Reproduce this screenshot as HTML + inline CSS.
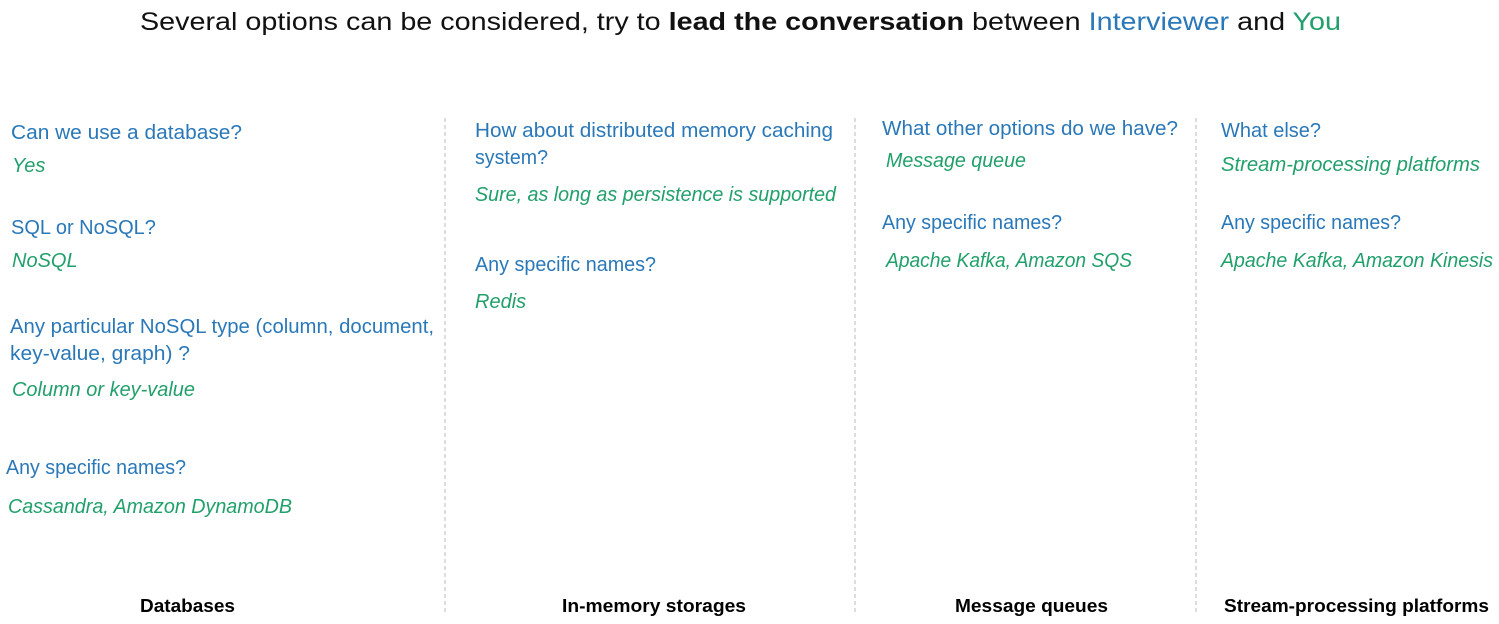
<!DOCTYPE html>
<html><head><meta charset="utf-8"><style>
html,body{margin:0;padding:0;background:#fff;}
svg{display:block;}
text{font-family:"Liberation Sans",Arial,sans-serif;}
.q{fill:#2a78b8;font-size:20px;}
.a{fill:#22a06b;font-size:20px;font-style:italic;}
.h{fill:#000;font-size:18px;font-weight:bold;}
</style></head><body>
<svg width="1499" height="624" viewBox="0 0 1499 624" xmlns="http://www.w3.org/2000/svg">
<text x="140" y="30" font-size="25" fill="#111" textLength="1201" lengthAdjust="spacingAndGlyphs">Several options can be considered, try to <tspan font-weight="bold">lead the conversation</tspan> between <tspan fill="#2a78b8">Interviewer</tspan> and <tspan fill="#22a06b">You</tspan></text>
<g stroke="#bbb" stroke-width="1" stroke-dasharray="4,3">
<line x1="445" y1="118" x2="445" y2="612"/>
<line x1="855" y1="118" x2="855" y2="612"/>
<line x1="1196" y1="118" x2="1196" y2="612"/>
</g>
<text class="q" x="11" y="139" textLength="231" lengthAdjust="spacingAndGlyphs">Can we use a database?</text>
<text class="a" x="12" y="172">Yes</text>
<text class="q" x="11" y="234">SQL or NoSQL?</text>
<text class="a" x="12" y="267">NoSQL</text>
<text class="q" x="10" y="333" textLength="424" lengthAdjust="spacingAndGlyphs">Any particular NoSQL type (column, document,</text>
<text class="q" x="10" y="360" textLength="180" lengthAdjust="spacingAndGlyphs">key-value, graph) ?</text>
<text class="a" x="12" y="396" textLength="183" lengthAdjust="spacingAndGlyphs">Column or key-value</text>
<text class="q" x="6" y="474" textLength="180" lengthAdjust="spacingAndGlyphs">Any specific names?</text>
<text class="a" x="8" y="513" textLength="284" lengthAdjust="spacingAndGlyphs">Cassandra, Amazon DynamoDB</text>

<text class="q" x="475" y="137" textLength="358" lengthAdjust="spacingAndGlyphs">How about distributed memory caching</text>
<text class="q" x="475" y="164" textLength="73" lengthAdjust="spacingAndGlyphs">system?</text>
<text class="a" x="475" y="201" textLength="361" lengthAdjust="spacingAndGlyphs">Sure, as long as persistence is supported</text>
<text class="q" x="475" y="271" textLength="181" lengthAdjust="spacingAndGlyphs">Any specific names?</text>
<text class="a" x="475" y="308">Redis</text>

<text class="q" x="882" y="135" textLength="296" lengthAdjust="spacingAndGlyphs">What other options do we have?</text>
<text class="a" x="886" y="167" textLength="140" lengthAdjust="spacingAndGlyphs">Message queue</text>
<text class="q" x="882" y="229" textLength="180" lengthAdjust="spacingAndGlyphs">Any specific names?</text>
<text class="a" x="886" y="267" textLength="246" lengthAdjust="spacingAndGlyphs">Apache Kafka, Amazon SQS</text>

<text class="q" x="1221" y="137" textLength="100" lengthAdjust="spacingAndGlyphs">What else?</text>
<text class="a" x="1221" y="171" textLength="259" lengthAdjust="spacingAndGlyphs">Stream-processing platforms</text>
<text class="q" x="1221" y="229" textLength="180" lengthAdjust="spacingAndGlyphs">Any specific names?</text>
<text class="a" x="1221" y="267" textLength="272" lengthAdjust="spacingAndGlyphs">Apache Kafka, Amazon Kinesis</text>

<text class="h" x="140" y="612" textLength="95" lengthAdjust="spacingAndGlyphs">Databases</text>
<text class="h" x="562" y="612" textLength="184" lengthAdjust="spacingAndGlyphs">In-memory storages</text>
<text class="h" x="955" y="612" textLength="153" lengthAdjust="spacingAndGlyphs">Message queues</text>
<text class="h" x="1224" y="612" textLength="265" lengthAdjust="spacingAndGlyphs">Stream-processing platforms</text>
</svg>
</body></html>
